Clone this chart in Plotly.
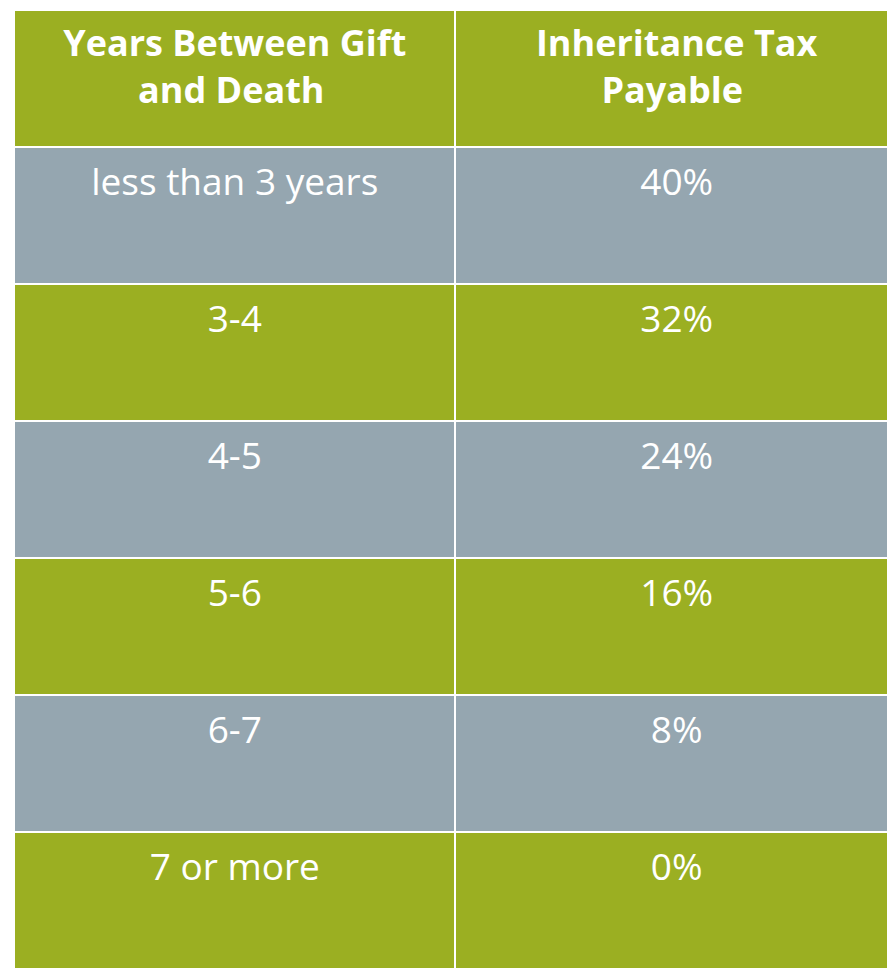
import plotly.graph_objects as go

header_line1 = ["Years Between Gift", "Inheritance Tax"]
header_line2 = ["and Death", "Payable"]
years = ["less than 3 years", "3-4", "4-5", "5-6", "6-7", "7 or more"]
tax = ["40%", "32%", "24%", "16%", "8%", "0%"]

GREEN = "#9BAF22"
GREY = "#95A6B0"
fills = [GREY if i % 2 == 0 else GREEN for i in range(len(years))]

pads = ["&nbsp;" * 8, "&nbsp;" * 7]
headers = ["<b>%s</b><br><b>%s%s</b>" % (a, p, b) for a, b, p in zip(header_line1, header_line2, pads)]

fig = go.Figure(go.Table(
    columnwidth=[437, 438],
    header=dict(values=headers, fill_color=GREEN,
                line=dict(color="white", width=2), align="center",
                font=dict(family="Open Sans", size=36, color="white"), height=137),
    cells=dict(values=[["<br>" + v for v in years], ["<br>" + v for v in tax]],
               fill_color=[fills, fills],
               line=dict(color="white", width=2), align="center",
               font=dict(family="Open Sans", size=37, color="white"), height=137),
))
fig.update_layout(width=895, height=975, margin=dict(l=6, r=5, t=2, b=0),
                  paper_bgcolor="white")
fig.write_html("out.html")
